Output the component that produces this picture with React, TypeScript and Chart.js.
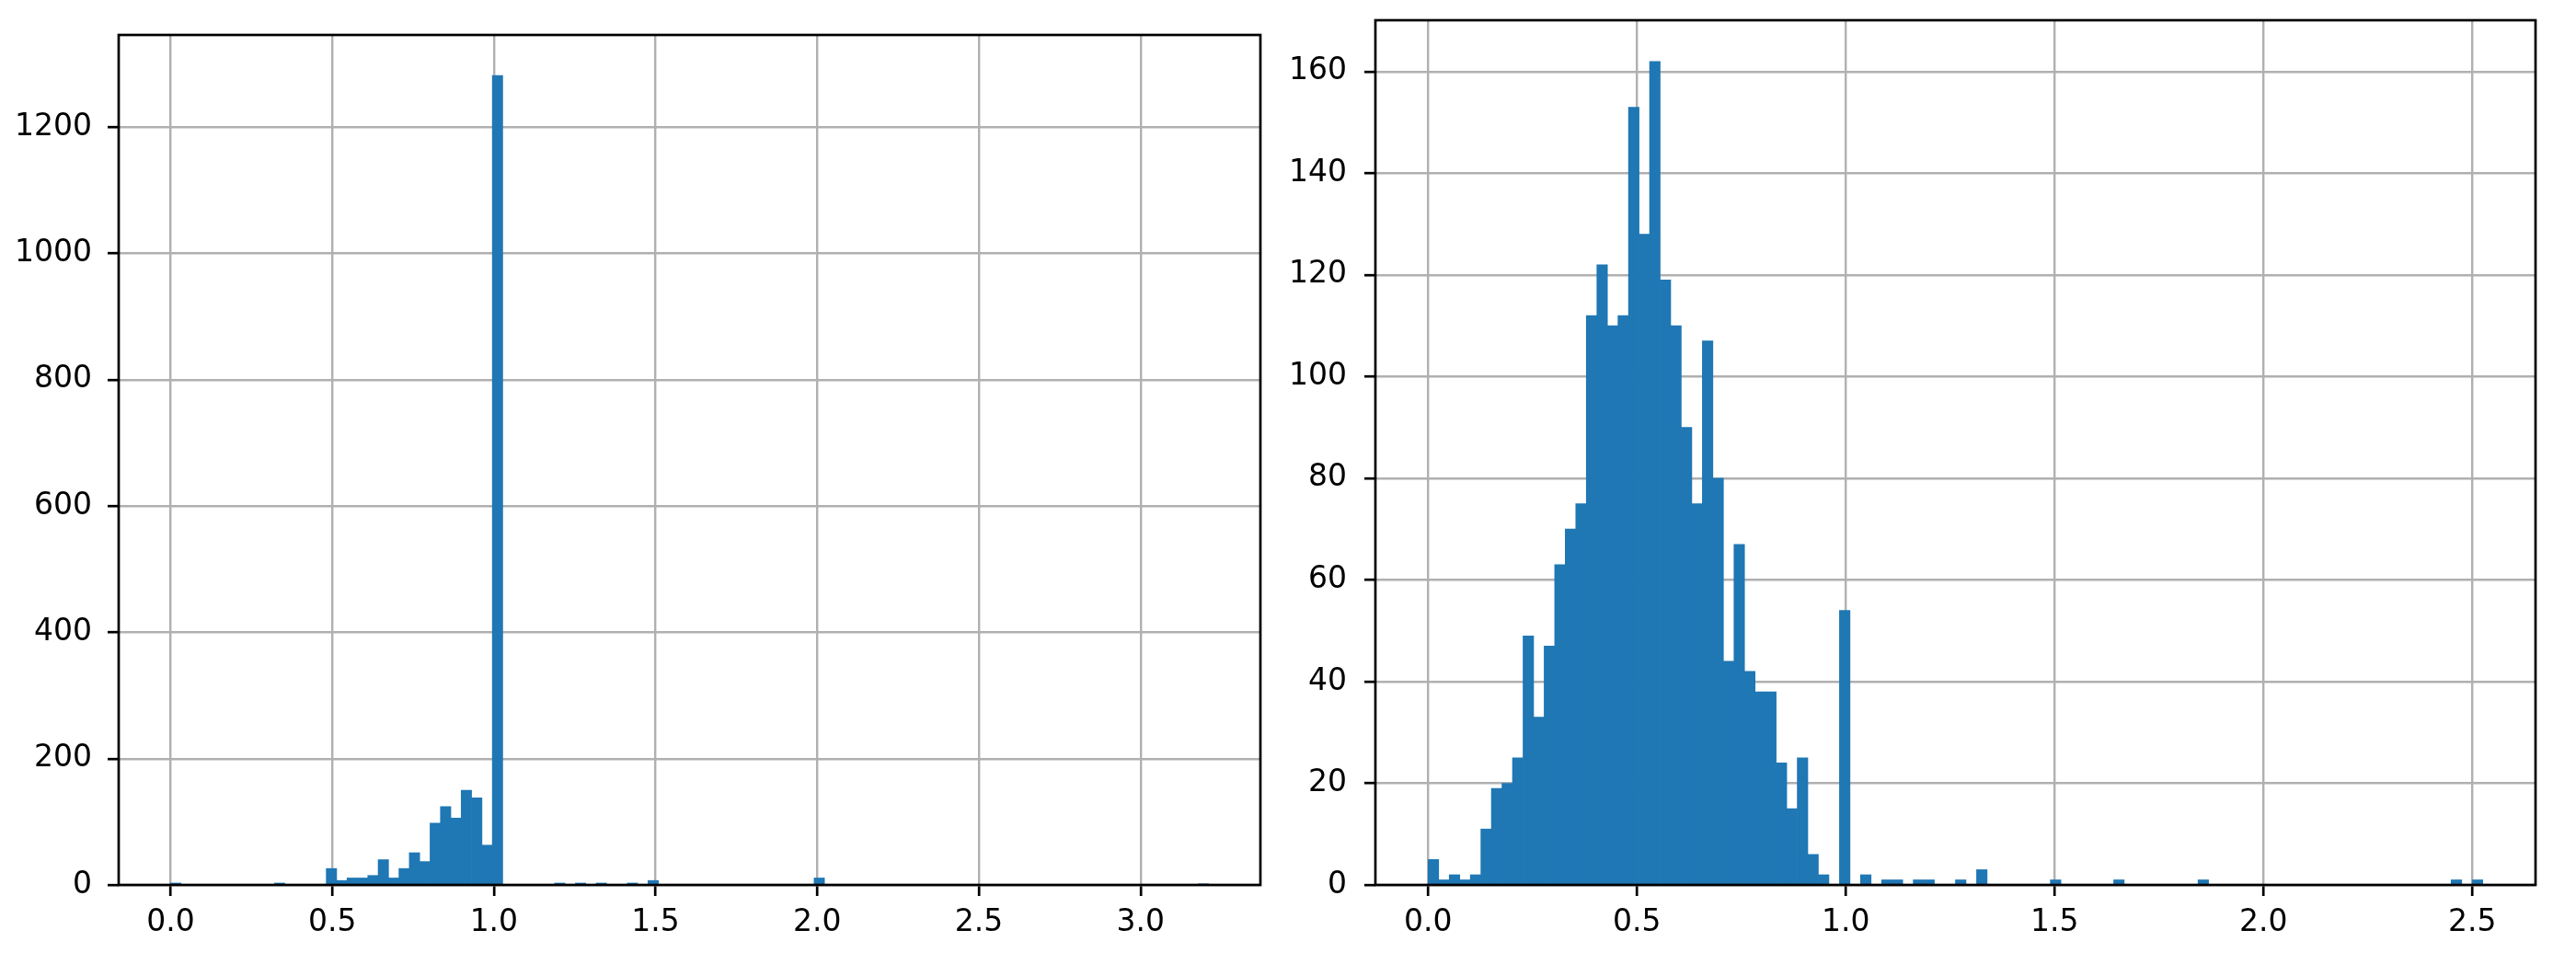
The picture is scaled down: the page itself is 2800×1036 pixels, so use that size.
import React, { useEffect, useRef } from "react";
import { Chart, registerables } from "chart.js";

Chart.register(...registerables);

// ---------- data ----------
const BIN_COUNT = 100;

// left histogram: value range of the data and bin counts (100 bins)
const leftRange = [0, 3.21];
const leftCounts = [
  3, 0, 0, 0, 0, 0, 0, 0, 0, 0,
  3, 0, 0, 0, 0, 26, 7, 11, 11, 15,
  40, 11, 26, 51, 37, 98, 124, 106, 150, 138,
  63, 1282, 0, 0, 0, 0, 0, 3, 0, 3,
  0, 3, 0, 0, 3, 0, 7, 0, 0, 0,
  0, 0, 0, 0, 0, 0, 0, 0, 0, 0,
  0, 0, 11, 0, 0, 0, 0, 0, 0, 0,
  0, 0, 0, 0, 0, 0, 0, 0, 0, 0,
  0, 0, 0, 0, 0, 0, 0, 0, 0, 0,
  0, 0, 0, 0, 0, 0, 0, 0, 0, 1,
];
const leftXTicks = [0, 0.5, 1, 1.5, 2, 2.5, 3];
const leftYTicks = [0, 200, 400, 600, 800, 1000, 1200];

// right histogram
const rightRange = [0, 2.525];
const rightCounts = [
  5, 1, 2, 1, 2, 11, 19, 20, 25, 49,
  33, 47, 63, 70, 75, 112, 122, 110, 112, 153,
  128, 162, 119, 110, 90, 75, 107, 80, 44, 67,
  42, 38, 38, 24, 15, 25, 6, 2, 0, 54,
  0, 2, 0, 1, 1, 0, 1, 1, 0, 0,
  1, 0, 3, 0, 0, 0, 0, 0, 0, 1,
  0, 0, 0, 0, 0, 1, 0, 0, 0, 0,
  0, 0, 0, 1, 0, 0, 0, 0, 0, 0,
  0, 0, 0, 0, 0, 0, 0, 0, 0, 0,
  0, 0, 0, 0, 0, 0, 0, 1, 0, 1,
];
const rightXTicks = [0, 0.5, 1, 1.5, 2, 2.5];
const rightYTicks = [0, 20, 40, 60, 80, 100, 120, 140, 160];

// ---------- styling ----------
const BAR_COLOR = "#1f77b4";
const GRID_COLOR = "#b0b0b0";
const FONT = { family: "'DejaVu Sans', sans-serif", size: 33 };

const spinePlugin = {
  id: "spines",
  afterDraw(chart: any) {
    const { ctx, chartArea } = chart;
    const { left, top, right, bottom } = chartArea;
    ctx.save();
    ctx.strokeStyle = "#000";
    ctx.lineWidth = 2.7;
    ctx.strokeRect(left, top, right - left, bottom - top);
    ctx.restore();
  },
};

function makeConfig(
  counts: number[],
  range: number[],
  xTicks: number[],
  yTicks: number[],
  yAxisWidth: number,
  yLabelPad: number,
  padding: { top: number; right: number; left: number; bottom: number }
): any {
  const span = range[1] - range[0];
  const w = span / BIN_COUNT;
  const data = counts.map((c, i) => ({ x: range[0] + (i + 0.5) * w, y: c }));
  const ymax = Math.max(...counts) * 1.05;
  const grid = {
    color: GRID_COLOR,
    lineWidth: 2.4,
    drawTicks: true,
    tickLength: 12,
    tickColor: "#000",
    tickWidth: 2.7,
    offset: false,
  };
  return {
    type: "bar",
    data: {
      datasets: [
        {
          data,
          backgroundColor: BAR_COLOR,
          borderWidth: 0,
          barPercentage: 1,
          categoryPercentage: 1,
        },
      ],
    },
    options: {
      animation: false,
      responsive: false,
      devicePixelRatio: 1,
      layout: { padding },
      plugins: { legend: { display: false }, tooltip: { enabled: false } },
      scales: {
        x: {
          type: "linear",
          offset: false,
          min: range[0] - 0.05 * span,
          max: range[1] + 0.05 * span,
          z: 1,
          afterBuildTicks: (s: any) => {
            s.ticks = xTicks.map((v) => ({ value: v }));
          },
          afterFit: (s: any) => {
            s.height = 74;
            s.paddingLeft = 0;
            s.paddingRight = 0;
            s.paddingTop = 0;
            s.paddingBottom = 0;
          },
          grid,
          border: { display: false },
          ticks: {
            font: FONT,
            color: "#000",
            padding: 10,
            maxRotation: 0,
            autoSkip: false,
            callback: (v: any) => Number(v).toFixed(1),
          },
        },
        y: {
          type: "linear",
          min: 0,
          max: ymax,
          z: 1,
          afterBuildTicks: (s: any) => {
            s.ticks = yTicks.map((v) => ({ value: v }));
          },
          afterFit: (s: any) => {
            s.width = yAxisWidth;
            s.paddingLeft = 0;
            s.paddingRight = 0;
            s.paddingTop = 0;
            s.paddingBottom = 0;
          },
          grid,
          border: { display: false },
          ticks: {
            font: FONT,
            color: "#000",
            padding: yLabelPad,
            autoSkip: false,
            callback: (v: any) => String(Math.round(Number(v))),
          },
        },
      },
    },
    plugins: [spinePlugin],
  };
}

function HistCanvas(props: {
  left: number;
  width: number;
  config: () => any;
}) {
  const ref = useRef<HTMLCanvasElement | null>(null);
  useEffect(() => {
    if (!ref.current) return;
    const chart = new Chart(ref.current, props.config());
    return () => chart.destroy();
  }, []);
  return (
    <canvas
      ref={ref}
      width={props.width}
      height={1036}
      style={{
        position: "absolute",
        left: props.left,
        top: 0,
        width: props.width,
        height: 1036,
      }}
    />
  );
}

export default function App() {
  return (
    <div
      style={{
        position: "absolute",
        left: 0,
        top: 0,
        width: 2800,
        height: 1036,
        background: "#fff",
        overflow: "hidden",
      }}
    >
      <HistCanvas
        left={0}
        width={1400}
        config={() =>
          makeConfig(leftCounts, leftRange, leftXTicks, leftYTicks, 129, 17, {
            top: 38,
            right: 30,
            left: 0,
            bottom: 0,
          })
        }
      />
      <HistCanvas
        left={1400}
        width={1400}
        config={() =>
          makeConfig(rightCounts, rightRange, rightXTicks, rightYTicks, 95, 19, {
            top: 22,
            right: 44,
            left: 0,
            bottom: 0,
          })
        }
      />
    </div>
  );
}
